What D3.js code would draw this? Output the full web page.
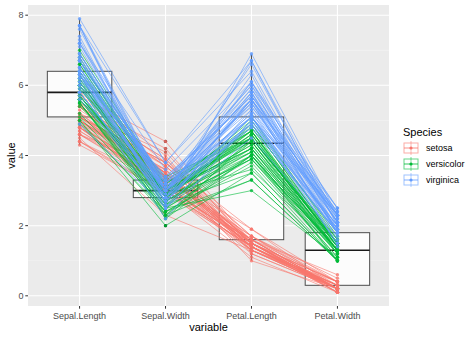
<!DOCTYPE html>
<html><head><meta charset="utf-8">
<script src="https://cdn.jsdelivr.net/npm/d3@7"></script>
<style>body{margin:0;background:#fff}svg{display:block}text{font-family:"Liberation Sans",Arial,sans-serif}</style>
</head><body><svg id="c" width="474" height="338"></svg>
<script>
const variables = ["Sepal.Length","Sepal.Width","Petal.Length","Petal.Width"];
const speciesLevels = ["setosa","versicolor","virginica"];
const speciesColors = ["#F8766D","#00BA38","#619CFF"];
const yTicks = [0,2,4,6,8];
const sepalLength = [5.1,4.9,4.7,4.6,5.0,5.4,4.6,5.0,4.4,4.9,5.4,4.8,4.8,4.3,5.8,5.7,5.4,5.1,5.7,5.1,5.4,5.1,4.6,5.1,4.8,5.0,5.0,5.2,5.2,4.7,4.8,5.4,5.2,5.5,4.9,5.0,5.5,4.9,4.4,5.1,5.0,4.5,4.4,5.0,5.1,4.8,5.1,4.6,5.3,5.0,
7.0,6.4,6.9,5.5,6.5,5.7,6.3,4.9,6.6,5.2,5.0,5.9,6.0,6.1,5.6,6.7,5.6,5.8,6.2,5.6,5.9,6.1,6.3,6.1,6.4,6.6,6.8,6.7,6.0,5.7,5.5,5.5,5.8,6.0,5.4,6.0,6.7,6.3,5.6,5.5,5.5,6.1,5.8,5.0,5.6,5.7,5.7,6.2,5.1,5.7,
6.3,5.8,7.1,6.3,6.5,7.6,4.9,7.3,6.7,7.2,6.5,6.4,6.8,5.7,5.8,6.4,6.5,7.7,7.7,6.0,6.9,5.6,7.7,6.3,6.7,7.2,6.2,6.1,6.4,7.2,7.4,7.9,6.4,6.3,6.1,7.7,6.3,6.4,6.0,6.9,6.7,6.9,5.8,6.8,6.7,6.7,6.3,6.5,6.2,5.9];
const sepalWidth = [3.5,3.0,3.2,3.1,3.6,3.9,3.4,3.4,2.9,3.1,3.7,3.4,3.0,3.0,4.0,4.4,3.9,3.5,3.8,3.8,3.4,3.7,3.6,3.3,3.4,3.0,3.4,3.5,3.4,3.2,3.1,3.4,4.1,4.2,3.1,3.2,3.5,3.6,3.0,3.4,3.5,2.3,3.2,3.5,3.8,3.0,3.8,3.2,3.7,3.3,
3.2,3.2,3.1,2.3,2.8,2.8,3.3,2.4,2.9,2.7,2.0,3.0,2.2,2.9,2.9,3.1,3.0,2.7,2.2,2.5,3.2,2.8,2.5,2.8,2.9,3.0,2.8,3.0,2.9,2.6,2.4,2.4,2.7,2.7,3.0,3.4,3.1,2.3,3.0,2.5,2.6,3.0,2.6,2.3,2.7,3.0,2.9,2.9,2.5,2.8,
3.3,2.7,3.0,2.9,3.0,3.0,2.5,2.9,2.5,3.6,3.2,2.7,3.0,2.5,2.8,3.2,3.0,3.8,2.6,2.2,3.2,2.8,2.8,2.7,3.3,3.2,2.8,3.0,2.8,3.0,2.8,3.8,2.8,2.8,2.6,3.0,3.4,3.1,3.0,3.1,3.1,3.1,2.7,3.2,3.3,3.0,2.5,3.0,3.4,3.0];
const petalLength = [1.4,1.4,1.3,1.5,1.4,1.7,1.4,1.5,1.4,1.5,1.5,1.6,1.4,1.1,1.2,1.5,1.3,1.4,1.7,1.5,1.7,1.5,1.0,1.7,1.9,1.6,1.6,1.5,1.4,1.6,1.6,1.5,1.5,1.4,1.5,1.2,1.3,1.4,1.3,1.5,1.3,1.3,1.3,1.6,1.9,1.4,1.6,1.4,1.5,1.4,
4.7,4.5,4.9,4.0,4.6,4.5,4.7,3.3,4.6,3.9,3.5,4.2,4.0,4.7,3.6,4.4,4.5,4.1,4.5,3.9,4.8,4.0,4.9,4.7,4.3,4.4,4.8,5.0,4.5,3.5,3.8,3.7,3.9,5.1,4.5,4.5,4.7,4.4,4.1,4.0,4.4,4.6,4.0,3.3,4.2,4.2,4.2,4.3,3.0,4.1,
6.0,5.1,5.9,5.6,5.8,6.6,4.5,6.3,5.8,6.1,5.1,5.3,5.5,5.0,5.1,5.3,5.5,6.7,6.9,5.0,5.7,4.9,6.7,4.9,5.7,6.0,4.8,4.9,5.6,5.8,6.1,6.4,5.6,5.1,5.6,6.1,5.6,5.5,4.8,5.4,5.6,5.1,5.1,5.9,5.7,5.2,5.0,5.2,5.4,5.1];
const petalWidth = [0.2,0.2,0.2,0.2,0.2,0.4,0.3,0.2,0.2,0.1,0.2,0.2,0.1,0.1,0.2,0.4,0.4,0.3,0.3,0.3,0.2,0.4,0.2,0.5,0.2,0.2,0.4,0.2,0.2,0.2,0.2,0.4,0.1,0.2,0.2,0.2,0.2,0.1,0.2,0.2,0.3,0.3,0.2,0.6,0.4,0.3,0.2,0.2,0.2,0.2,
1.4,1.5,1.5,1.3,1.5,1.3,1.6,1.0,1.3,1.4,1.0,1.5,1.0,1.4,1.3,1.4,1.5,1.0,1.5,1.1,1.8,1.3,1.5,1.2,1.3,1.4,1.4,1.7,1.5,1.0,1.1,1.0,1.2,1.6,1.5,1.6,1.5,1.3,1.3,1.3,1.2,1.4,1.2,1.0,1.3,1.2,1.3,1.3,1.1,1.3,
2.5,1.9,2.1,1.8,2.2,2.1,1.7,1.8,1.8,2.5,2.0,1.9,2.1,2.0,2.4,2.3,1.8,2.2,2.3,1.5,2.3,2.0,2.0,1.8,2.1,1.8,1.8,1.8,2.1,1.6,1.9,2.0,2.2,1.5,1.4,2.3,2.4,1.8,1.8,2.1,2.4,2.3,1.9,2.3,2.5,2.3,1.9,2.0,2.3,1.8];
const species = d3.range(150).map(i => speciesLevels[Math.floor(i/50)]);

const columns = [sepalLength, sepalWidth, petalLength, petalWidth];
const rows = d3.range(150).map(i => ({sp: species[i], vals: columns.map(c => c[i])}));

const svg = d3.select("#c");
const P = {l:28, r:389, t:5, b:306};
const x = d3.scalePoint().domain(variables).range([P.l, P.r]).padding(0.6);
const y = d3.scaleLinear().domain([-0.29, 8.29]).range([P.b, P.t]);
const color = d3.scaleOrdinal().domain(speciesLevels).range(speciesColors);
const step = x.step();

// panel
svg.append("rect").attr("x",P.l).attr("y",P.t).attr("width",P.r-P.l).attr("height",P.b-P.t).attr("fill","#EBEBEB");
const g = svg.append("g");
[1,3,5,7].forEach(v => g.append("line").attr("x1",P.l).attr("x2",P.r).attr("y1",y(v)).attr("y2",y(v)).attr("stroke","#F5F5F5").attr("stroke-width",0.55));
yTicks.forEach(v => g.append("line").attr("x1",P.l).attr("x2",P.r).attr("y1",y(v)).attr("y2",y(v)).attr("stroke","#fff").attr("stroke-width",1.07));
variables.forEach(v => g.append("line").attr("x1",x(v)).attr("x2",x(v)).attr("y1",P.t).attr("y2",P.b).attr("stroke","#fff").attr("stroke-width",1.07));

// boxplots
const bw = step*0.75;
columns.forEach((col, k) => {
  const s = col.slice().sort(d3.ascending);
  const q1 = d3.quantile(s,0.25), med = d3.quantile(s,0.5), q3 = d3.quantile(s,0.75);
  const iqr = q3-q1;
  const lo = d3.min(s.filter(v => v >= q1-1.5*iqr)), hi = d3.max(s.filter(v => v <= q3+1.5*iqr));
  const cx = x(variables[k]);
  const bg = svg.append("g");
  bg.append("line").attr("x1",cx).attr("x2",cx).attr("y1",y(hi)).attr("y2",y(q3)).attr("stroke","#4D4D4D").attr("stroke-width",1);
  bg.append("line").attr("x1",cx).attr("x2",cx).attr("y1",y(q1)).attr("y2",y(lo)).attr("stroke","#4D4D4D").attr("stroke-width",1);
  bg.append("rect").attr("x",cx-bw/2).attr("y",y(q3)).attr("width",bw).attr("height",y(q1)-y(q3))
    .attr("fill","#FCFCFC").attr("stroke","#4D4D4D").attr("stroke-width",1);
  bg.append("line").attr("x1",cx-bw/2).attr("x2",cx+bw/2).attr("y1",y(med)).attr("y2",y(med)).attr("stroke","#1A1A1A").attr("stroke-width",1.6);
  s.filter(v => v < lo || v > hi).forEach(v => bg.append("circle").attr("cx",cx).attr("cy",y(v)).attr("r",1.6).attr("fill","#000"));
});

// parallel lines
const line = d3.line().x((d,k) => x(variables[k])).y(d => y(d));
const lg = svg.append("g");
rows.forEach(r => {
  lg.append("path").attr("d", line(r.vals)).attr("fill","none").attr("stroke",color(r.sp))
    .attr("stroke-width",1).attr("stroke-opacity",0.6);
});
rows.forEach(r => {
  r.vals.forEach((v,k) => lg.append("circle").attr("cx",x(variables[k])).attr("cy",y(v)).attr("r",1.7)
    .attr("fill",color(r.sp)).attr("fill-opacity",0.8));
});

// axes
const ya = svg.append("g");
yTicks.forEach(v => {
  ya.append("line").attr("x1",P.l-2.7).attr("x2",P.l).attr("y1",y(v)).attr("y2",y(v)).attr("stroke","#333").attr("stroke-width",1);
  ya.append("text").attr("x",P.l-4.5).attr("y",y(v)).attr("dy","0.35em").attr("text-anchor","end").attr("font-size",9).attr("fill","#4D4D4D").text(v);
});
variables.forEach(v => {
  ya.append("line").attr("x1",x(v)).attr("x2",x(v)).attr("y1",P.b).attr("y2",P.b+2.7).attr("stroke","#333").attr("stroke-width",1);
  ya.append("text").attr("x",x(v)).attr("y",P.b+13).attr("text-anchor","middle").attr("font-size",9).attr("fill","#4D4D4D").text(v);
});
svg.append("text").attr("x",(P.l+P.r)/2).attr("y",331).attr("text-anchor","middle").attr("font-size",11).attr("fill","#000").text("variable");
svg.append("text").attr("transform",`translate(15,${(P.t+P.b)/2}) rotate(-90)`).attr("text-anchor","middle").attr("font-size",11).attr("fill","#000").text("value");

// legend
const leg = svg.append("g");
leg.append("text").attr("x",403).attr("y",136).attr("font-size",11).attr("fill","#000").text("Species");
speciesLevels.forEach((s,i) => {
  const cy = 148 + i*16;
  const kg = leg.append("g");
  kg.append("rect").attr("x",404).attr("y",cy-5).attr("width",14).attr("height",10).attr("fill","#fff").attr("stroke",color(s)).attr("stroke-opacity",0.6).attr("stroke-width",1);
  kg.append("line").attr("x1",404).attr("x2",418).attr("y1",cy).attr("y2",cy).attr("stroke",color(s)).attr("stroke-opacity",0.8).attr("stroke-width",1);
  kg.append("line").attr("x1",411).attr("x2",411).attr("y1",cy-7).attr("y2",cy+7).attr("stroke",color(s)).attr("stroke-opacity",0.5).attr("stroke-width",1);
  kg.append("circle").attr("cx",411).attr("cy",cy).attr("r",1.6).attr("fill",color(s));
  leg.append("text").attr("x",426).attr("y",cy).attr("dy","0.35em").attr("font-size",9).attr("fill","#000").text(s);
});
</script></body></html>
